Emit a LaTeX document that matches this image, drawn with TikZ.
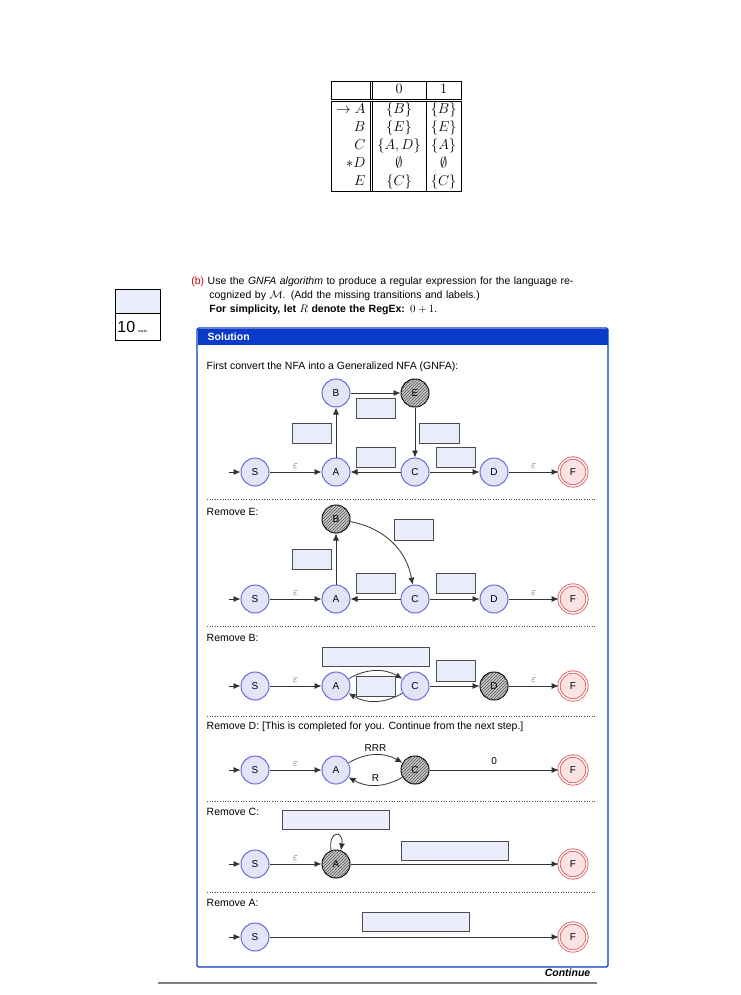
\documentclass[tikz,border=0pt]{standalone}
\usepackage{fontspec}
\setmainfont{Liberation Sans}
\usepackage{amsmath,amssymb}
\usetikzlibrary{patterns,arrows.meta}
\definecolor{nfill}{HTML}{E4E4F8}
\definecolor{ndraw}{HTML}{6A6AD8}
\definecolor{ffill}{HTML}{FBE3E3}
\definecolor{fdraw}{HTML}{E05050}
\definecolor{bfill}{HTML}{EBEDFC}
\definecolor{hdr}{HTML}{0A3BC8}
\begin{document}
\begin{tikzpicture}[x=1pt,y=-1pt,line width=0.8pt,
  st/.style={circle,draw=ndraw,line width=1pt,fill=nfill,minimum size=28pt,inner sep=0pt,font=\fontsize{10}{10}\selectfont},
  fin/.style={circle,draw=fdraw,line width=0.8pt,fill=ffill,double=white,double distance=1.5pt,minimum size=28pt,inner sep=0pt,font=\fontsize{10}{10}\selectfont},
  hat/.style={circle,draw=black,line width=1pt,fill=gray!45,postaction={pattern=north east lines,pattern color=gray!70!black},minimum size=28pt,inner sep=0pt,font=\fontsize{10}{10}\selectfont},
  ans/.style={draw=gray!60!black,line width=0.8pt,fill=bfill},
  tr/.style={-{Latex[length=7pt,width=6pt]},draw=black!80},
  el/.style={font=\fontsize{11}{11}\selectfont,text=black!70},
  ml/.style={font=\fontsize{10}{10}\selectfont},
  dl/.style={dotted,line width=0.6pt,draw=black!70},
  lbl/.style={anchor=west,font=\fontsize{10.5}{12}\selectfont}]
\useasboundingbox (0,0) rectangle (740,995);
% table
\node[inner sep=0pt] (tab) at (396.5,136) {\fontsize{15}{16}\selectfont\renewcommand{\arraystretch}{1.12}%
$\begin{array}{|r||c|c|}\hline
 & 0 & 1\\\hline\hline
\rightarrow A & \{B\} & \{B\}\\
B & \{E\} & \{E\}\\
C & \{A,D\} & \{A\}\\
*D & \emptyset & \emptyset\\
E & \{C\} & \{C\}\\\hline
\end{array}$};
% marks box
\draw[fill=bfill] (115,289) rectangle (160,313);
\draw (115,313) rectangle (160,340);
\node[anchor=west,inner sep=0pt] (ten) at (117,327) {\fontsize{16}{16}\selectfont 10\,\fontsize{3.5}{3.5}\selectfont marks};
% question text
\node[anchor=north west,inner sep=0pt,align=left,font=\fontsize{10.5}{14}\selectfont,text width=430pt] (q) at (191,276)
 {\textcolor{red!80!black}{(b)}\ Use the \textit{GNFA algorithm} to produce a regular expression for the language re-\\
 \hspace*{18pt}cognized by $\mathcal{M}$. (Add the missing transitions and labels.)\\
 \hspace*{18pt}\textbf{For simplicity, let $R$ denote the RegEx:} $0+1$.};
% solution box
\draw[hdr,line width=1.2pt,rounded corners=1.5pt] (197,328) rectangle (608,967);
\fill[hdr] (197.5,328.5) rectangle (607.5,345);
\node[anchor=west,text=white,font=\fontsize{10.5}{12}\selectfont\bfseries] (sol) at (204,337) {Solution};
\node[lbl] (t1) at (203,367) {First convert the NFA into a Generalized NFA (GNFA):};
% diagram 1
\coordinate (i1) at (229,472);
\node[st] (S1) at (255,472) {S};
\node[st] (A1) at (336,472) {A};
\node[st] (C1) at (415,472) {C};
\node[st] (D1) at (494,472) {D};
\node[fin] (F1) at (573,472) {F};
\node[st] (B1) at (336,393) {B};
\node[hat] (E1) at (415,393) {E};
\draw[tr] (i1) -- (S1);
\draw[tr] (S1) -- node[el,above]{$\varepsilon$} (A1);
\draw[tr] (A1) -- (B1);
\draw[tr] (B1) -- (E1);
\draw[tr] (E1) -- (C1);
\draw[tr] (C1) -- (A1);
\draw[tr] (C1) -- (D1);
\draw[tr] (D1) -- node[el,above]{$\varepsilon$} (F1);
\draw[ans] (356,398) rectangle (395,418);
\draw[ans] (292,423) rectangle (331,443);
\draw[ans] (419,423) rectangle (459,443);
\draw[ans] (356,447) rectangle (395,467);
\draw[ans] (436,447) rectangle (475,467);
\draw[dl] (207,499) -- (597,499);
\node[lbl] (t2) at (203,512) {Remove E:};
% diagram 2
\coordinate (i2) at (229,599);
\node[st] (S2) at (255,599) {S};
\node[st] (A2) at (336,599) {A};
\node[st] (C2) at (415,599) {C};
\node[st] (D2) at (494,599) {D};
\node[fin] (F2) at (573,599) {F};
\node[hat] (B2) at (336,519) {B};
\draw[tr] (i2) -- (S2);
\draw[tr] (S2) -- node[el,above]{$\varepsilon$} (A2);
\draw[tr] (A2) -- (B2);
\draw[tr] (B2) to[bend left=35] (C2);
\draw[tr] (C2) -- (A2);
\draw[tr] (C2) -- (D2);
\draw[tr] (D2) -- node[el,above]{$\varepsilon$} (F2);
\draw[ans] (394,519) rectangle (433,540);
\draw[ans] (292,549) rectangle (331,569);
\draw[ans] (356,573) rectangle (395,593);
\draw[ans] (436,573) rectangle (475,593);
\draw[dl] (207,626) -- (597,626);
\node[lbl] (t3) at (203,638) {Remove B:};
% diagram 3
\coordinate (i3) at (229,686);
\node[st] (S3) at (255,686) {S};
\node[st] (A3) at (336,686) {A};
\node[st] (C3) at (415,686) {C};
\node[hat] (D3) at (494,686) {D};
\node[fin] (F3) at (573,686) {F};
\draw[tr] (i3) -- (S3);
\draw[tr] (S3) -- node[el,above]{$\varepsilon$} (A3);
\draw[tr] (A3) to[bend left=30] (C3);
\draw[tr] (C3) to[bend left=30] (A3);
\draw[tr] (C3) -- (D3);
\draw[tr] (D3) -- node[el,above]{$\varepsilon$} (F3);
\draw[ans] (322,647) rectangle (429,666);
\draw[ans] (436,660) rectangle (475,681);
\draw[ans] (356,676) rectangle (395,696);
\draw[dl] (207,716) -- (597,716);
\node[lbl] (t4) at (203,727) {Remove D: [This is completed for you. Continue from the next step.]};
% diagram 4
\coordinate (i4) at (229,770);
\node[st] (S4) at (255,770) {S};
\node[st] (A4) at (336,770) {A};
\node[hat] (C4) at (415,770) {C};
\node[fin] (F4) at (573,770) {F};
\draw[tr] (i4) -- (S4);
\draw[tr] (S4) -- node[el,above]{$\varepsilon$} (A4);
\draw[tr] (A4) to[bend left=30] node[ml,above]{RRR} (C4);
\draw[tr] (C4) to[bend left=30] node[ml,above]{R} (A4);
\draw[tr] (C4) -- node[ml,above=2pt]{0} (F4);
\draw[dl] (207,801) -- (597,801);
\node[lbl] (t5) at (203,812) {Remove C:};
% diagram 5
\coordinate (i5) at (229,864);
\node[st] (S5) at (255,864) {S};
\node[hat] (A5) at (336,864) {A};
\node[fin] (F5) at (573,864) {F};
\draw[tr] (i5) -- (S5);
\draw[tr] (S5) -- node[el,above]{$\varepsilon$} (A5);
\draw[tr] (A5.110) .. controls (328,830) and (344,830) .. (A5.70);
\draw[tr] (A5) -- (F5);
\draw[ans] (282,810) rectangle (389,829);
\draw[ans] (401,841) rectangle (508,860);
\draw[dl] (207,892) -- (597,892);
\node[lbl] (t6) at (203,903) {Remove A:};
% diagram 6
\coordinate (i6) at (229,937);
\node[st] (S6) at (255,937) {S};
\node[fin] (F6) at (573,937) {F};
\draw[tr] (i6) -- (S6);
\draw[tr] (S6) -- (F6);
\draw[ans] (362,912) rectangle (469,931);
\node[anchor=east,font=\fontsize{10.5}{12}\selectfont\bfseries\itshape] (cont) at (594,973) {Continue};
\draw[gray,line width=1.5pt] (158,983) -- (597,983);
\end{tikzpicture}
\end{document}
